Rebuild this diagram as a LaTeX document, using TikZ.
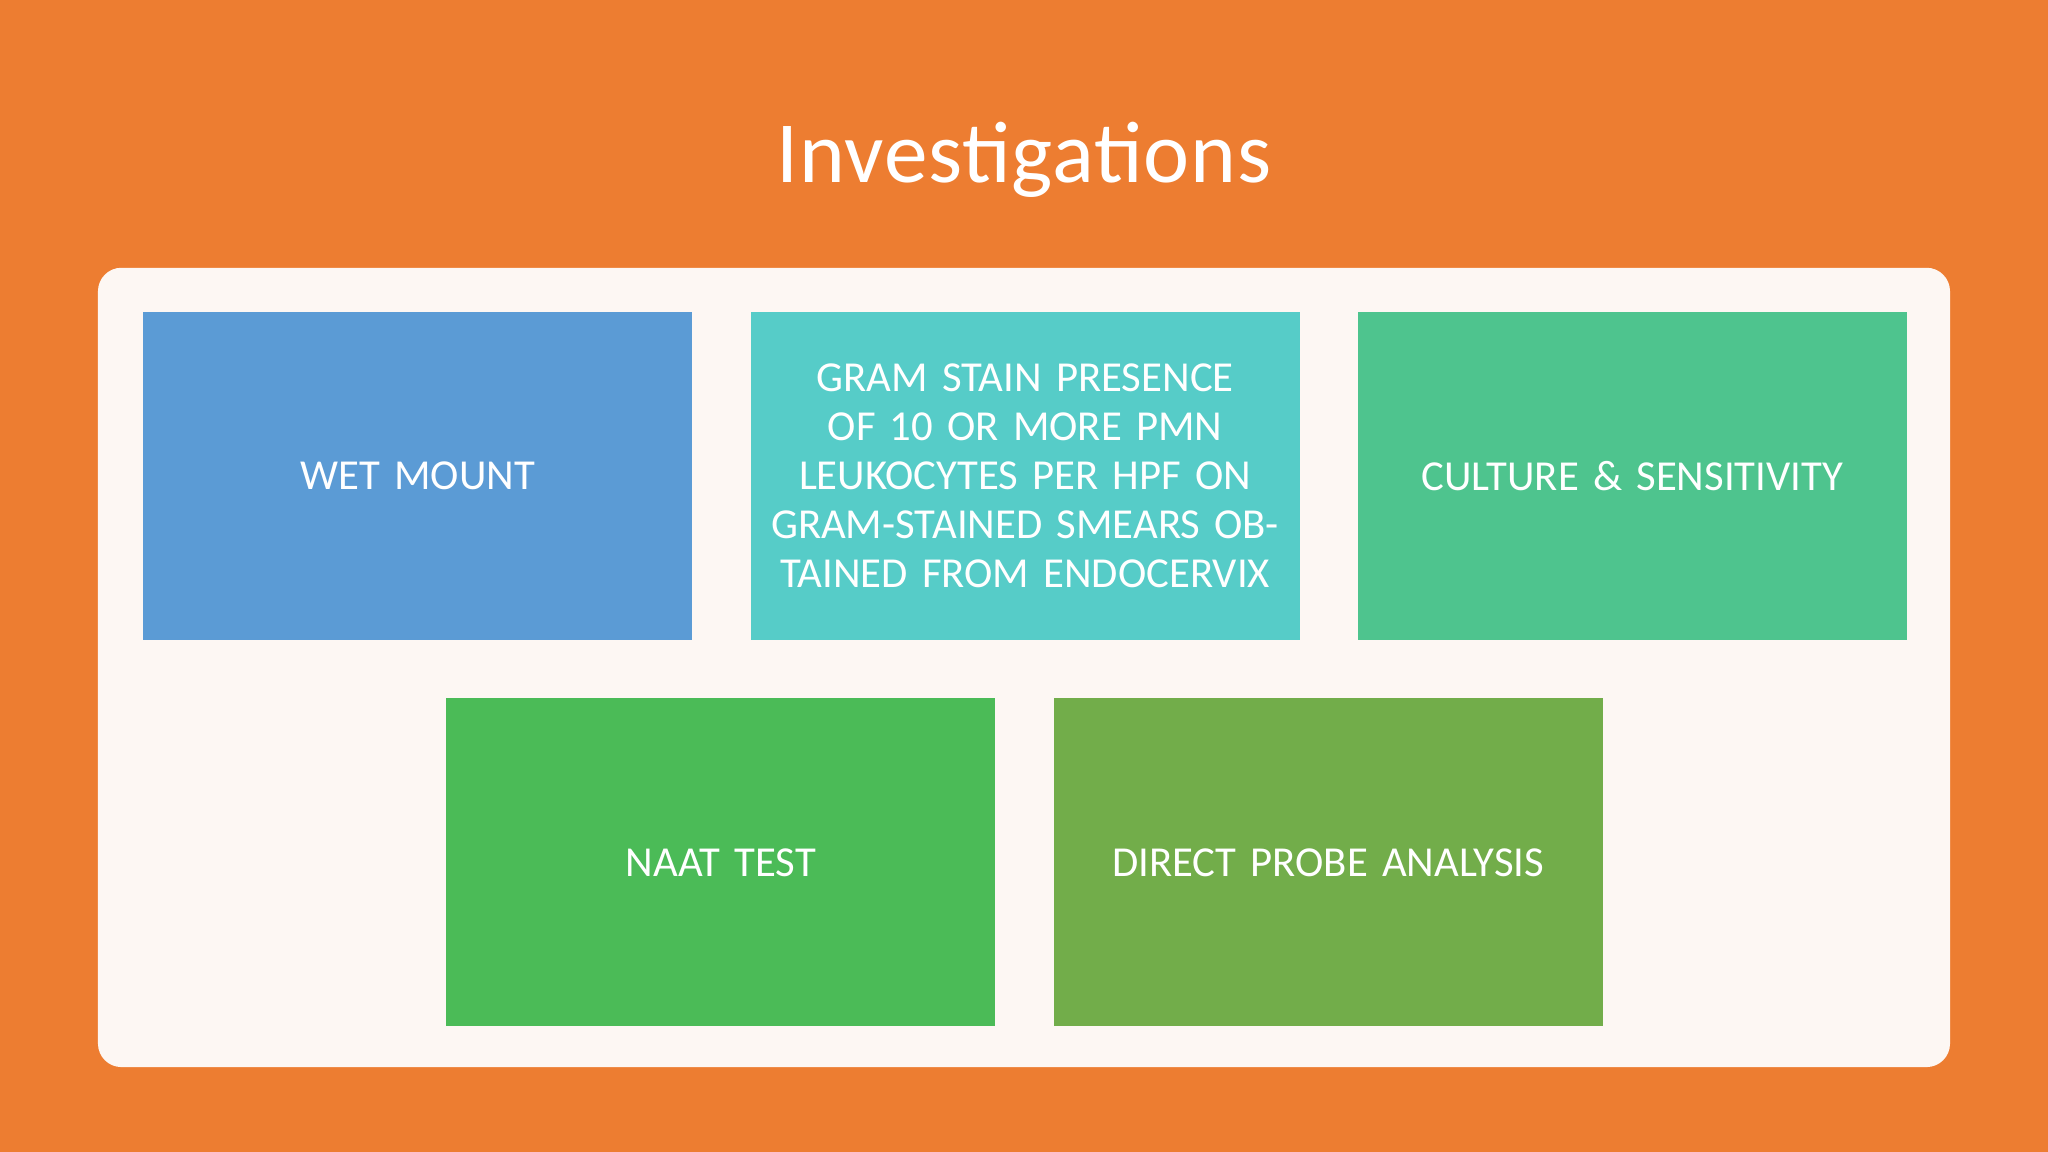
\documentclass[tikz,border=0pt]{standalone}
\usepackage{fontspec}
\setmainfont{Carlito}
\usetikzlibrary{positioning}
\definecolor{bgorange}{RGB}{237,125,49}
\definecolor{panelwhite}{RGB}{253,247,243}
\definecolor{myblue}{RGB}{91,155,213}
\definecolor{myteal}{RGB}{86,204,200}
\definecolor{mygreen}{RGB}{78,196,142}
\definecolor{mylime}{RGB}{75,187,87}
\definecolor{myolive}{RGB}{114,173,74}

\begin{document}
\begin{tikzpicture}[
    x=0.01cm, y=-0.01cm,
    card/.style={rectangle, anchor=north west, minimum width=4.2cm, minimum height=2.51cm, inner sep=0pt, text=white, align=center, text width=3.9cm, font=\fontsize{9.3}{10.7}\selectfont}
]

% Background
\fill[bgorange] (0,0) rectangle (1568,882);
\useasboundingbox (0,0) rectangle (1568,882);

% Title
\node[text=white, font=\fontsize{19}{22}\selectfont\addfontfeature{LetterSpace=1}] (title) at (784,122) {Investigations};

% Panel
\fill[panelwhite, rounded corners=0.18cm] (75,205) rectangle (1493,817);

% Top row
\node[card, fill=myblue] (wet) at (109,238) {WET MOUNT};
\node[card, fill=myteal] (gram) at (574,238) {GRAM STAIN PRESENCE OF 10 OR MORE PMN LEUKOCYTES PER HPF ON GRAM-STAINED SMEARS OBTAINED FROM ENDOCERVIX};
\node[card, fill=mygreen] (culture) at (1039,238) {CULTURE \& SENSITIVITY};

% Bottom row
\node[card, fill=mylime] (naat) at (341,534) {NAAT TEST};
\node[card, fill=myolive] (probe) at (806,534) {DIRECT PROBE ANALYSIS};

\end{tikzpicture}
\end{document}
